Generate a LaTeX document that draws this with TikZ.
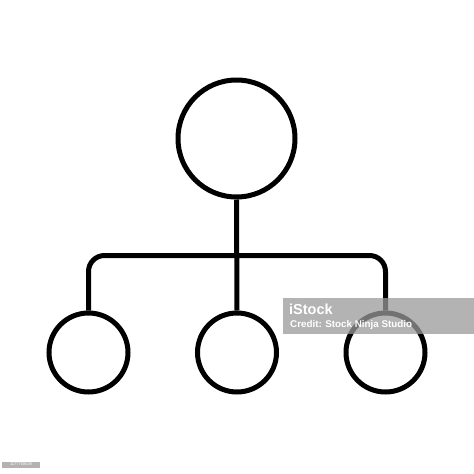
\documentclass[tikz,border=0pt]{standalone}
\usepackage{fontspec}
\setmainfont{Liberation Sans}
\begin{document}
\begin{tikzpicture}[x=1pt,y=-1pt,
	ring/.style={circle,draw,line width=5pt,inner sep=0pt},
	link/.style={line width=5pt}]
	\useasboundingbox (0,0) rectangle (474,474);
	
	% circles
	\node[ring,minimum size=117pt] (top) at (236.5,138.5) {};
	\node[ring,minimum size=79pt] (left) at (88.5,352.5) {};
	\node[ring,minimum size=79pt] (mid) at (237,352.5) {};
	\node[ring,minimum size=79pt] (right) at (385.5,352.5) {};
	\coordinate (bar) at (237,255.5);
	
	% connectors
	\draw[link] (top.south) -- (mid.north);
	\draw[link,rounded corners=16pt] (left.north) -- (left.north |- bar) -- (right.north |- bar) -- (right.north);
	
	% watermark
	\fill[black!40,opacity=0.75] (283,298) rectangle (474,334);
	\node[anchor=west,inner sep=0pt,text=white,font=\bfseries\fontsize{14.5}{14.5}\selectfont] (brand) at (289,309.5) {iStock};
	\node[anchor=west,inner sep=0pt,text=white,font=\bfseries\fontsize{9.8}{9.8}\selectfont] (credit) at (290,324.5) {Credit: Stock Ninja Studio};
	\fill[black!30] (2,461.5) rectangle (40,467.5);
	\node[inner sep=0pt,text=white,font=\fontsize{4}{4}\selectfont] (code) at (21,464.5) {1177708639};
\end{tikzpicture}
\end{document}
